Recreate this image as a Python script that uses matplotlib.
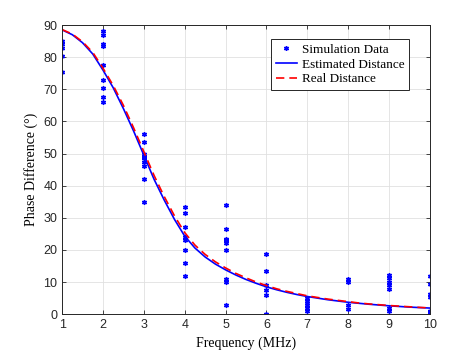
import matplotlib
matplotlib.use("Agg")
import matplotlib.pyplot as plt
import numpy as np

# simulation data (frequency in MHz, phase difference in degrees)
sim_f = [1]*5 + [2]*9 + [3]*9 + [4]*8 + [5]*9 + [6]*6 + [7]*6 + [8]*4 + [9]*7 + [10]*6
sim_phase = [85, 84, 83, 80.5, 75.5,
             88, 87, 84, 83.5, 77.5, 73, 70.5, 67.5, 66,
             56, 53.5, 50, 49, 48.5, 47.5, 46, 42, 35,
             33.5, 31.5, 27, 24, 23, 20, 16, 12,
             34, 26.5, 23.5, 23, 22, 20, 11, 10, 3,
             18.7, 13.5, 9, 7.5, 6, 0.2,
             5, 4.2, 3.5, 2.8, 2, 1,
             11, 10, 3, 1.5,
             12.3, 11.3, 10, 9, 7.8, 2, 1,
             12, 9.3, 6.2, 5.4, 1, 0.6]

curve_f = [1.0, 1.25, 1.5, 1.75, 2.0, 2.25, 2.5, 2.75, 3.0, 3.25, 3.5, 3.75,
           4.0, 4.25, 4.5, 4.75, 5.0, 5.25, 5.5, 5.75, 6.0, 6.25, 6.5, 6.75,
           7.0, 7.25, 7.5, 7.75, 8.0, 8.25, 8.5, 8.75, 9.0, 9.25, 9.5, 9.75, 10.0]
estimated = [88.5, 87, 84.5, 81, 76, 70.5, 64, 57, 49.5, 42, 35.5, 29.5,
             24.3, 20.6, 17.8, 15.6, 13.8, 12.2, 10.8, 9.6, 8.5, 7.6, 6.8, 6.1,
             5.5, 5.0, 4.5, 4.1, 3.7, 3.4, 3.1, 2.85, 2.6, 2.4, 2.2, 2.05, 1.9]
real = [88.6, 87.2, 84.8, 81.5, 76.6, 71.2, 65, 58, 50.6, 43.2, 36.6, 30.6,
        25.4, 21.5, 18.6, 16.3, 14.4, 12.7, 11.3, 10.0, 8.9, 7.9, 7.1, 6.4,
        5.7, 5.2, 4.7, 4.3, 3.9, 3.5, 3.2, 2.95, 2.7, 2.5, 2.3, 2.1, 1.95]

fig = plt.figure(figsize=(4.74, 3.53), dpi=100)
ax = fig.add_axes([0.131, 0.110, 0.776, 0.819])

ax.plot(sim_f, sim_phase, linestyle="none", marker=(6, 2, 0), color="#0000ff",
        markersize=3.5, mew=1.0, label="Simulation Data")
ax.plot(curve_f, estimated, color="#0000ff", lw=1.2, label="Estimated Distance")
ax.plot(curve_f, real, color="#ff0000", lw=1.2, ls=(0, (5, 3)), label="Real Distance")

ax.set_xlim(1, 10)
ax.set_ylim(0, 90)
ax.set_xticks(np.arange(1, 11))
ax.set_yticks(np.arange(0, 91, 10))
ax.grid(True, color="#e0e0e0", lw=0.6)
ax.set_axisbelow(True)
for s in ax.spines.values():
    s.set_color("#262626")
    s.set_linewidth(0.7)
ax.tick_params(direction="in", top=True, right=True, length=3, width=0.6,
               colors="#262626", labelsize=9)
for lab in ax.get_xticklabels() + ax.get_yticklabels():
    lab.set_family("Liberation Sans")

ax.set_xlabel("Frequency (MHz)", family="Liberation Serif", fontsize=10)
ax.set_ylabel("Phase Difference (°)", family="Liberation Serif", fontsize=10)

leg = ax.legend(loc="upper right", bbox_to_anchor=(0.962, 0.975),
                prop={"family": "Liberation Serif", "size": 9.5},
                fancybox=False, edgecolor="#262626", framealpha=1,
                handlelength=1.6, handletextpad=0.4, borderpad=0.35, labelspacing=0.2)
leg.get_frame().set_linewidth(0.7)

plt.savefig("out.png", dpi=100)
